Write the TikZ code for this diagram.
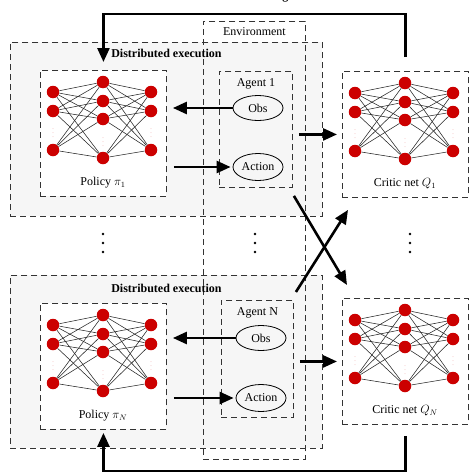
\documentclass[tikz,border=0pt]{standalone}
\usepackage{fontspec}
\setmainfont{Liberation Serif}
\usetikzlibrary{positioning, arrows.meta, calc, shapes.geometric}

\definecolor{neuronred}{RGB}{204,0,0}
\definecolor{panelgray}{RGB}{246,246,246}

\tikzset{
    pics/net/.style={code={
        \node[netbox, anchor=north west] (-box) at (0,0) {};
        \foreach \y [count=\i] in {22,41,80} {
            \node[neuron] (-a\i) at (13,\y) {};
            \node[neuron] (-c\i) at (111,\y) {};
        }
        \foreach \y [count=\j] in {12,31,49,88}
            \node[neuron] (-b\j) at (63,\y) {};
        \foreach \i in {1,2,3}
            \foreach \j in {1,...,4}
                \draw[link] (-a\i) -- (-b\j) -- (-c\i);
        \node[netdots] (-da) at (13,60) {$\vdots$};
        \node[netdots] (-db) at (63,69) {$\vdots$};
        \node[netdots] (-dc) at (111,60) {$\vdots$};
        \node (-label) at (63,113) {#1};
    }}
}

\begin{document}
\begin{tikzpicture}[
    x=1pt, y=-1pt,
    font=\fontsize{12}{14}\selectfont,
    frame/.style={draw=black!80, dash pattern=on 6pt off 4pt, line width=0.9pt},
    group/.style={frame, fill=panelgray, anchor=north west, inner sep=0pt},
    agentbox/.style={frame, anchor=north west, inner sep=0pt},
    netbox/.style={frame, fill=white, minimum width=126pt, minimum height=126pt, inner sep=0pt},
    neuron/.style={circle, fill=neuronred, minimum size=12.5pt, inner sep=0pt},
    link/.style={black!85, line width=0.55pt},
    netdots/.style={font=\fontsize{6}{6}\selectfont, text=neuronred!45, inner sep=0pt},
    oval/.style={ellipse, draw, line width=0.8pt, minimum width=50pt, minimum height=25pt, inner sep=0pt},
    title/.style={font=\fontsize{12}{14}\selectfont\bfseries},
    arr/.style={-{Triangle[length=14pt, width=12pt]}, line width=2.6pt},
]
\useasboundingbox (0,0) rectangle (474,474);

% execution panels and environment
\node[group, minimum width=312pt, minimum height=174pt] (exec1) at (10,42) {};
\node[group, minimum width=312pt, minimum height=173pt] (execN) at (10,275) {};
\node[frame, anchor=north west, minimum width=102pt, minimum height=438pt, inner sep=0pt] (env) at (203,21) {};
\node[below=3pt of env.north] (env-title) {Environment};
\node[title, below=4pt of exec1.north] (exec1-title) {Distributed execution};
\node[title, below=6pt of execN.north] (execN-title) {Distributed execution};
\node[title, anchor=base east] (train) at (292,-0.5) {Centralized training};

% agents
\node[agentbox, minimum width=73pt, minimum height=116pt] (a1) at (219,71) {};
\node[agentbox, minimum width=72pt, minimum height=117pt] (aN) at (221,300) {};
\node[below=4pt of a1.north] (a1-title) {Agent 1};
\node[below=4pt of aN.north] (aN-title) {Agent N};
\node[oval] (obs1) at (258,108) {Obs};
\node[oval, minimum height=27pt] (act1) at (258,167) {Action};
\node[oval] (obsN) at (261,338) {Obs};
\node[oval, minimum height=27pt] (actN) at (261,398) {Action};

% networks
\pic (p1) at (40,70) {net={Policy $\pi_1$}};
\pic (pN) at (40,303) {net={Policy $\pi_N$}};
\pic (q1) at (342,71) {net={Critic net $Q_1$}};
\pic (qN) at (342,298) {net={Critic net $Q_N$}};

% ellipsis between agents
\foreach \x in {103,255,410}
    \foreach \y in {234,243,252}
        \fill (\x,\y) circle (1.4pt);

% connectors
\draw[arr, shorten >=6pt] (obs1.west) -- (obs1.west -| p1-box.east);
\draw[arr, shorten <=7pt, shorten >=2pt] (act1.west -| p1-box.east) -- (act1.west);
\draw[arr, shorten >=6pt] (obsN.west) -- (obsN.west -| pN-box.east);
\draw[arr, shorten <=7pt, shorten >=2pt] (actN.west -| pN-box.east) -- (actN.west);
\draw[arr, shorten <=6pt, shorten >=5pt] (a1.east |- q1-box.west) -- (q1-box.west);
\draw[arr, shorten <=6pt, shorten >=5pt] (aN.east |- qN-box.west) -- (qN-box.west);
\draw[arr] ($(a1.south east)+(1,8)$) -- ($(qN-box.north west)+(5,-13)$);
\draw[arr] ($(aN.north east)+(2,-8)$) -- ($(q1-box.south west)+(6,12)$);
\draw[arr, shorten <=14pt, shorten >=8pt] (q1-box.north) -- ++(0,-57) -| (p1-box.north);
\draw[arr, shorten <=11pt, shorten >=3pt] (qN-box.south) -- ++(0,46) -| (pN-box.south);
\end{tikzpicture}
\end{document}
